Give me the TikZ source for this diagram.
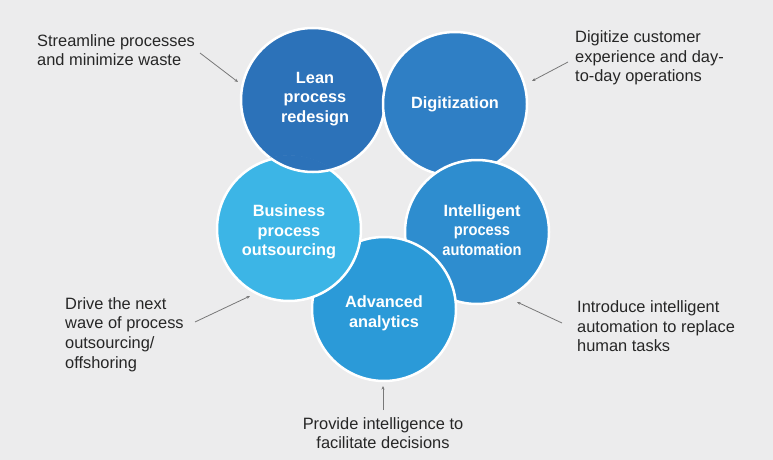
\documentclass[tikz,border=0pt]{standalone}
\usepackage{fontspec}
\setmainfont{Liberation Sans}
\usetikzlibrary{arrows.meta}
\definecolor{bgc}{RGB}{236,236,237}
\definecolor{leanc}{RGB}{44,114,185}
\definecolor{digc}{RGB}{47,127,197}
\definecolor{intc}{RGB}{46,141,207}
\definecolor{advc}{RGB}{43,154,216}
\definecolor{bpoc}{RGB}{60,181,230}
\definecolor{txtc}{RGB}{38,38,38}
\definecolor{linec}{RGB}{120,120,120}
\tikzset{
  circ/.style={circle, draw=white, line width=2.5pt, minimum size=144pt, inner sep=0pt},
  ctext/.style={inner sep=0pt, text=white, align=center, font=\bfseries\fontsize{16.3}{19.8}\selectfont},
  note/.style={inner sep=0pt, text=txtc, font=\fontsize{16.4}{19.6}\selectfont},
  arr/.style={draw=linec, line width=0.8pt, -{Stealth[length=3.5pt,width=3pt]}}
}
\newcommand{\narrow}[1]{\scalebox{0.9}[1]{#1}}
\begin{document}
\begin{tikzpicture}[x=1pt,y=-1pt]
\fill[bgc] (0,0) rectangle (773,460);
\useasboundingbox (0,0) rectangle (773,460);
% circles (cyclic overlap)
\node[circ, fill=leanc] (lean) at (313,100) {};
\node[circ, fill=digc] (dig) at (455,104) {};
\node[circ, fill=intc] (intl) at (477,232) {};
\node[circ, fill=advc] (adv) at (384,309) {};
\node[circ, fill=bpoc] (bpo) at (289,229) {};
\begin{scope}
  \clip (bpo.center) circle (73.8pt);
  \fill[leanc] (lean.center) circle (72pt);
  \draw[white, line width=2.5pt] (lean.center) circle (72pt);
\end{scope}
% circle texts
\node[ctext] (leanT) at (315,99) {Lean\\process\\redesign};
\node[ctext] (digT) at (455,104) {Digitization};
\node[ctext] (intlT) at (482,230) {Intelligent\\\narrow{process}\\\narrow{automation}};
\node[ctext] (advT) at (384,313.5) {Advanced\\analytics};
\node[ctext] (bpoT) at (289,232) {Business\\process\\outsourcing};
% annotations
\node[note, anchor=west, align=left] (n1) at (37,50) {Streamline processes\\and minimize waste};
\node[note, anchor=west, align=left] (n2) at (575,58) {Digitize customer\\experience and day-\\to-day operations};
\node[note, anchor=west, align=left] (n3) at (65,334.5) {Drive the next\\wave of process\\outsourcing/\\offshoring};
\node[note, anchor=west, align=left] (n4) at (577,326.5) {Introduce intelligent\\automation to replace\\human tasks};
\node[note, anchor=center, align=center] (n5) at (383,433) {Provide intelligence to\\facilitate decisions};
% connectors
\coordinate (s1) at (200,53); \coordinate (e1) at (238,82);
\coordinate (s2) at (568,62); \coordinate (e2) at (532,81);
\coordinate (s3) at (195,322); \coordinate (e3) at (250,296);
\coordinate (s4) at (562,323); \coordinate (e4) at (517,302);
\coordinate (s5) at (383,410); \coordinate (e5) at (383,386);
\draw[arr] (s1) -- (e1);
\draw[arr] (s2) -- (e2);
\draw[arr] (s3) -- (e3);
\draw[arr] (s4) -- (e4);
\draw[arr] (s5) -- (e5);
\end{tikzpicture}
\end{document}
